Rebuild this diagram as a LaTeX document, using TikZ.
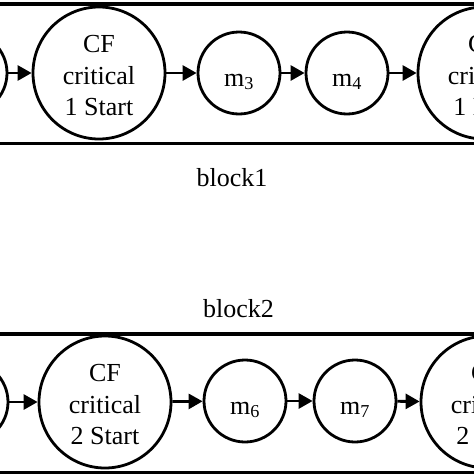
\documentclass[tikz,border=0pt]{standalone}
\usepackage{fontspec}
\setmainfont{Liberation Serif}
\usetikzlibrary{arrows.meta}
\newcommand{\topstrut}{\rule{0pt}{23pt}}
\tikzset{
  bignode/.style={draw,circle,line width=2.8pt,minimum size=132pt,inner sep=0pt,align=center,font=\fontsize{26}{31.5}\selectfont},
  mnode/.style={draw,circle,line width=2.8pt,minimum size=82pt,inner sep=0pt,font=\fontsize{26}{31.5}\selectfont,text height=26pt,text depth=0pt},
  arr/.style={line width=2.8pt,-{Triangle[length=14pt,width=15pt]}},
  blockbox/.style={line width=3.2pt}
}
\begin{document}
\begin{tikzpicture}[x=1pt,y=-1pt]
            \useasboundingbox (0,0) rectangle (474,474);
            % block1
            \draw[blockbox] (-10,4) rectangle (490,143.3);
            \node[mnode] (m2) at (-34,73) {};
            \node[bignode] (s1) at (99,73) {\topstrut CF\\critical\\1 Start};
            \node[mnode] (m3) at (239,73) {m\textsubscript{3}};
            \node[mnode] (m4) at (347,73) {m\textsubscript{4}};
            \node[bignode] (e1) at (484,73) {\topstrut CF\\critical\\1 End};
            \draw[arr] (m2)--(s1);
            \draw[arr] (s1)--(m3);
            \draw[arr] (m3)--(m4);
            \draw[arr] (m4)--(e1);
            \node[anchor=base,font=\fontsize{26}{31.5}\selectfont] (b1) at (232,186) {block1};
            % block2
            \node[anchor=base,font=\fontsize{26}{31.5}\selectfont] (b2) at (238.5,317) {block2};
            \draw[blockbox] (-10,334) rectangle (490,473);
            \node[mnode] (m5) at (-33,402) {};
            \node[bignode] (s2) at (105,402) {\topstrut CF\\critical\\2 Start};
            \node[mnode] (m6) at (245,401) {m\textsubscript{6}};
            \node[mnode] (m7) at (355,401) {m\textsubscript{7}};
            \node[bignode] (e2) at (487,402) {\topstrut CF\\critical\\2 End};
            \draw[arr] (m5)--(s2);
            \draw[arr] (s2)--(m6);
            \draw[arr] (m6)--(m7);
            \draw[arr] (m7)--(e2);
\end{tikzpicture}
\end{document}
